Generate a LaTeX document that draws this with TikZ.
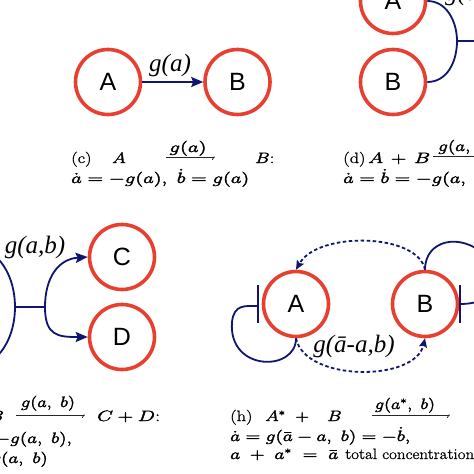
\RequirePackage{fix-cm}
\documentclass[tikz,border=0pt]{standalone}
\usepackage{fontspec}
\usepackage{graphicx}
\usetikzlibrary{arrows.meta}
\newfontfamily\lsans{Liberation Sans}
\newfontfamily\lserif{Liberation Serif}
\newfontfamily\capfont[FakeBold=0.9]{Latin Modern Roman}
\definecolor{cred}{RGB}{232,64,48}
\definecolor{cnavy}{RGB}{14,22,112}
\newcommand{\sx}[1]{\scalebox{1.22}[1]{#1}}
\newcommand{\rw}[2]{\resizebox{#1pt}{\height}{#2}}
\newcommand{\heavyon}{\special{pdf:literal direct 2 Tr 0.28 w}}
\newcommand{\heavyoff}{\special{pdf:literal direct 0 Tr}}
\begin{document}
\begin{tikzpicture}[x=1pt,y=-1pt,
  ch/.style={circle,draw=cred,line width=3.6pt,minimum size=65pt,inner sep=0pt,font=\lsans\fontsize{25}{25}\selectfont},
  conn/.style={draw=cnavy,line width=1.8pt},
  dotl/.style={draw=cnavy,line width=1.8pt,dash pattern=on 3.5pt off 2.5pt},
  hd/.style={-{Stealth[length=12pt,width=10pt,inset=2pt]}},
  shd/.style={-{Stealth[length=9pt,width=8pt,inset=1.5pt]}},
  lab/.style={font=\lserif\itshape\fontsize{25}{25}\selectfont,inner sep=0pt,anchor=base},
  captxt/.style={font=\fontsize{15}{18}\selectfont,inner sep=0pt,anchor=base west,
     execute at begin node=\heavyon, execute at end node=\heavyoff},
  caparr/.style={draw=black!85,line width=0.8pt,-{To[harpoon,swap,length=3pt,width=6pt]}},
  inhib/.style={draw=cnavy,line width=2.8pt}
]
\useasboundingbox (0,0) rectangle (474,474);
\clip (0,0) rectangle (474,474);
\fill[white] (0,0) rectangle (474,474);

% ---------- (c)
\node[ch] (cA) at (108,82) {A};
\node[ch] (cB) at (237.5,82) {B};
\draw[conn,hd] (cA) -- (cB);
\node[lab] (cg) at (170,71) {g(a)};

% ---------- (d)
\node[ch] (dA) at (393,1) {A};
\node[ch] (dB) at (393,82) {B};
\coordinate (dj) at (457,41);
\coordinate (dout) at (480,41);
\draw[conn] (dA.east) .. controls (447,1) and (457,22) .. (dj) .. controls (457,62) and (447,82) .. (dB.east);
\draw[conn] (dj) -- (dout);
\node[lab,anchor=base west] (dg) at (445,0) {g(a,b)};

% ---------- (e)
\node[ch] (eC) at (122,257) {C};
\node[ch] (eD) at (122,337) {D};
\coordinate (ein1) at (-12,250);
\coordinate (ein2) at (-12,364);
\coordinate (ej1) at (15,307);
\coordinate (ej2) at (45,307);
\draw[conn] (ein1) .. controls (10,265) and (15,290) .. (ej1) .. controls (15,324) and (10,349) .. (ein2);
\draw[conn] (ej1) -- (ej2);
\draw[conn,hd] (ej2) .. controls (45,278) and (58,259) .. (eC.west);
\draw[conn,hd] (ej2) .. controls (45,336) and (58,337) .. (eD.west);
\node[lab] (eg) at (35,253) {g(a,b)};

% ---------- (h)
\node[ch] (hA) at (296,304) {A};
\node[ch] (hB) at (425,304) {B};
\coordinate (hAb1) at (258,285);
\coordinate (hAb2) at (258,323);
\coordinate (hAbm) at (258,306);
\draw[inhib] (hAb1) -- (hAb2);
\draw[conn] (hA.south) .. controls (296,372) and (228,372) .. (232,322) .. controls (234,304) and (245,306) .. (hAbm);
\coordinate (hBb1) at (460,285);
\coordinate (hBb2) at (460,323);
\coordinate (hBbm) at (460,304);
\draw[inhib] (hBb1) -- (hBb2);
\coordinate (hBo) at (485,255);
\draw[conn] (hB.north) .. controls (425,240) and (460,232) .. (hBo) .. controls (505,275) and (500,304) .. (hBbm);
\draw[dotl,shd] (hB.north) .. controls (418,233) and (318,231) .. (hA.north);
\draw[dotl,shd] (hA.south) .. controls (305,382) and (415,382) .. (hB.south);
\node[lab] (hg) at (354,352) {g(\={a}-a,b)};

% ---------- captions (c)
\node[captxt] (cc1) at (71,163) {\sx{\capfont(c)}};
\node[captxt] (cc2) at (112,163) {\sx{$A$}};
\coordinate (cca1) at (166,157);
\coordinate (cca2) at (215,157);
\draw[caparr] (cca1) -- (cca2);
\node[captxt,anchor=base] (cc3) at (188,152) {\rw{37}{$g(a)$}};
\node[captxt] (cc4) at (255,163) {\sx{$B$:}};
\node[captxt] (cc5) at (71,183) {\rw{178}{$\dot a = -g(a),\ \dot b = g(a)$}};

% ---------- captions (d)
\node[captxt] (dc1) at (343,163) {\sx{\capfont(d)}};
\node[captxt] (dc2) at (368,163) {\rw{62}{$A\,+\,B$}};
\coordinate (dca1) at (433,156);
\coordinate (dca2) at (520,156);
\draw[caparr] (dca1) -- (dca2);
\node[captxt] (dc3) at (438,151) {\scalebox{1.28}[1]{$g(a,\ b)$}};
\node[captxt] (dc4) at (343,183) {\scalebox{1.36}[1]{$\dot a = \dot b = -g(a,\ b),$}};

% ---------- captions (e)
\node[captxt,anchor=base east] (ec0) at (4,421) {\sx{$B$}};
\coordinate (eca1) at (16,415);
\coordinate (eca2) at (85,415);
\draw[caparr] (eca1) -- (eca2);
\node[captxt,anchor=base] (ec1) at (48,407) {\rw{54}{$g(a,\ b)$}};
\node[captxt] (ec2) at (97,421) {\rw{63}{$C+D$:}};
\node[captxt,anchor=base east] (ec3) at (72,443) {\scalebox{1.28}[1]{$\dot a = \dot b = -g(a,\ b),$}};
\node[captxt,anchor=base east] (ec4) at (48,463) {\scalebox{1.28}[1]{$\dot c = \dot d = g(a,\ b)$}};

% ---------- captions (h)
\node[captxt] (hc1) at (230,421) {\sx{\capfont(h)}};
\node[captxt] (hc2) at (265,421) {\sx{$A^*$}};
\node[captxt] (hc3) at (295,421) {\sx{$+$}};
\node[captxt] (hc4) at (327,421) {\sx{$B$}};
\coordinate (hca1) at (372,415);
\coordinate (hca2) at (450,415);
\draw[caparr] (hca1) -- (hca2);
\node[captxt,anchor=base] (hc5) at (405,409) {\rw{60}{$g(a^*,\ b)$}};
\node[captxt] (hc6) at (230,441) {\rw{180}{$\dot a = g(\bar a - a,\ b) = -\dot b,$}};
\node[captxt] (hc7) at (230,459) {\rw{108}{$a \;+\; a^* \;=\; \bar a$}};
\node[captxt] (hc8) at (345,459) {\resizebox{129pt}{\height}{\capfont total concentration}};
\end{tikzpicture}
\end{document}
